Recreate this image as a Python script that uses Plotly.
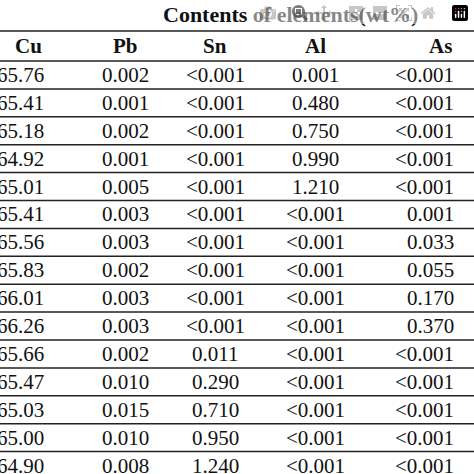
import plotly.graph_objects as go

title = "Contents of elements(wt%)"
columns = ["Cu", "Pb", "Sn", "Al", "As"]
cu = ["65.76", "65.41", "65.18", "64.92", "65.01", "65.41", "65.56", "65.83",
      "66.01", "66.26", "65.66", "65.47", "65.03", "65.00", "64.90"]
pb = ["0.002", "0.001", "0.002", "0.001", "0.005", "0.003", "0.003", "0.002",
      "0.003", "0.003", "0.002", "0.010", "0.015", "0.010", "0.008"]
sn = ["<0.001"] * 10 + ["0.011", "0.290", "0.710", "0.950", "1.240"]
al = ["0.001", "0.480", "0.750", "0.990", "1.210"] + ["<0.001"] * 10
as_ = ["<0.001"] * 5 + ["0.001", "0.033", "0.055", "0.170", "0.370"] + ["<0.001"] * 5

W = 474
row_h = 27.9
header_bottom = 61
# column anchor x and alignment
col_x = [46, 125, 215, 315, 456]
col_anchor = ["right", "center", "center", "center", "right"]

fig = go.Figure()
font = dict(family="Liberation Serif", size=21, color="#111")
bold = dict(family="Liberation Serif", size=21, color="#111")

fig.add_annotation(x=290, y=14, text="<b>" + title + "</b>", showarrow=False,
                   font=dict(family="Liberation Serif", size=22, color="#111"))
for name, x, anc in zip(columns, col_x, col_anchor):
    hx = x if anc == "center" else x - 2
    fig.add_annotation(x=hx, y=46, text="<b>" + name + "</b>", showarrow=False,
                       xanchor=anc, font=bold)

data = [cu, pb, sn, al, as_]
for c, vals in enumerate(data):
    for i, v in enumerate(vals):
        y = header_bottom + row_h * (i + 0.5)
        fig.add_annotation(x=col_x[c], y=y, text=v, showarrow=False,
                           xanchor=col_anchor[c], font=font)

lines = [31, header_bottom] + [header_bottom + row_h * k for k in range(1, 15)]
for y in lines:
    fig.add_shape(type="line", x0=0, x1=W, y0=y, y1=y,
                  line=dict(color="#222", width=1.5))

fig.update_xaxes(range=[0, W], visible=False)
fig.update_yaxes(range=[W, 0], visible=False)
fig.update_layout(width=W, height=W, margin=dict(l=0, r=0, t=0, b=0),
                  plot_bgcolor="white", paper_bgcolor="white", showlegend=False)
# drop the browser's default body margin so the table sits at the window edge
fig.write_html("out.html",
               post_script="document.body.style.margin='0';document.body.style.overflow='hidden';")
